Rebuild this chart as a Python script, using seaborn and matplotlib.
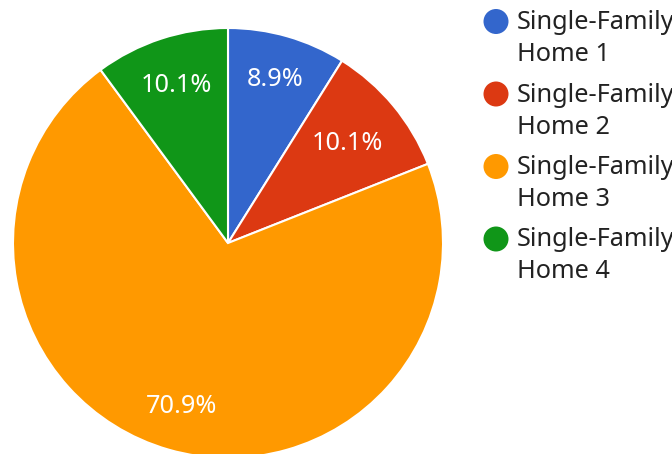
import matplotlib
matplotlib.use("Agg")
import matplotlib.pyplot as plt
import seaborn as sns
import numpy as np

labels = ["Single-Family\nHome 1", "Single-Family\nHome 2",
          "Single-Family\nHome 3", "Single-Family\nHome 4"]
values = [8.9, 10.1, 70.9, 10.1]
colors = ["#3366cc", "#dc3912", "#ff9900", "#109618"]

sns.set_theme(style="white")
plt.rcParams['font.family'] = ['Noto Sans', 'DejaVu Sans']

W, H = 672, 454
px = 72 / 100  # points per pixel at dpi 100
fs = 25.3 * px
fig = plt.figure(figsize=(W / 100, H / 100), dpi=100)

# pie axes: centre (228, 243), radius 215 px
cx, cy, r = 228, 243, 215
ax = fig.add_axes([(cx - r) / W, (H - cy - r) / H, 2 * r / W, 2 * r / H])
wedges, _ = ax.pie(values, colors=colors, startangle=90, counterclock=False,
                   radius=1, wedgeprops=dict(edgecolor="white", linewidth=1.5))
ax.set_xlim(-1, 1)
ax.set_ylim(-1, 1)
ax.set_aspect("equal")
ax.axis("off")

# percent labels inside slices
dist = [0.79, 0.72, 0.79, 0.77]
for w, v, d in zip(wedges, values, dist):
    ang = np.deg2rad((w.theta1 + w.theta2) / 2)
    ax.text(d * np.cos(ang), d * np.sin(ang), "{:.1f}%".format(v),
            ha="center", va="center", color="white", fontsize=fs)

# legend drawn in pixel coordinates
lg = fig.add_axes([0, 0, 1, 1])
lg.set_xlim(0, W)
lg.set_ylim(H, 0)
lg.axis("off")
for i, (lab, c) in enumerate(zip(labels, colors)):
    y = 21.5 + i * 72.5
    lg.scatter([496], [y], s=(25 * px) ** 2, color=c, edgecolor="none")
    first, second = lab.split("\n")
    lg.text(517, y + 1, first, ha="left", va="center", color="#222222",
            fontsize=fs)
    lg.text(517, y + 33, second, ha="left", va="center", color="#222222",
            fontsize=fs)

fig.savefig("out.png", dpi=100)
